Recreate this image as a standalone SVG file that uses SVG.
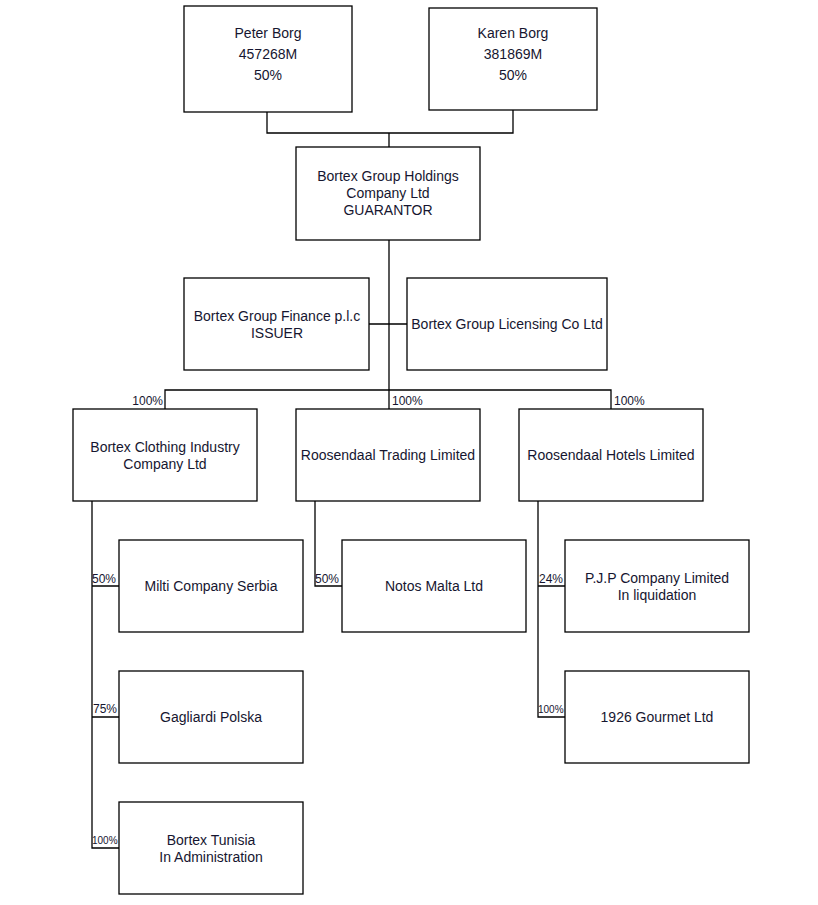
<svg xmlns="http://www.w3.org/2000/svg" width="818" height="905" viewBox="0 0 818 905">
<style>
.box{fill:#ffffff;stroke:#000000;stroke-width:1.3}
.t{font-family:"Liberation Sans",Arial,sans-serif;font-size:14px;fill:#161630;text-anchor:middle}
.p{font-family:"Liberation Sans",Arial,sans-serif;font-size:12px;fill:#161630}
.ps{font-family:"Liberation Sans",Arial,sans-serif;font-size:10px;fill:#161630}
.c{fill:none;stroke:#000000;stroke-width:1.3}
</style>
<rect width="818" height="905" fill="#ffffff"/>
<g id="connectors">
<path class="c" d="M267,112 V133 H513 V110 M389,133 V147"/>
<path class="c" d="M389,240 V390 M369,324 H407"/>
<path class="c" d="M165,409 V390 H611 V409 M389,390 V409"/>
<path class="c" d="M92,501 V848 H119 M92,586 H119 M92,717 H119"/>
<path class="c" d="M315,501 V586 H342"/>
<path class="c" d="M538,501 V717 H565 M538,586 H565"/>
<text class="p" x="163" y="405" text-anchor="end">100%</text>
<text class="p" x="392" y="405">100%</text>
<text class="p" x="614" y="405">100%</text>
<text class="p" x="92" y="583">50%</text>
<text class="p" x="93" y="713">75%</text>
<text class="ps" x="92" y="844">100%</text>
<text class="p" x="315" y="583">50%</text>
<text class="p" x="539" y="583">24%</text>
<text class="ps" x="538" y="713">100%</text>
</g>
<g id="peter-borg">
<rect class="box" x="184" y="6" width="168" height="106"/>
<text class="t" x="268" y="38">Peter Borg</text>
<text class="t" x="268" y="59">457268M</text>
<text class="t" x="268" y="80">50%</text>
</g>
<g id="karen-borg">
<rect class="box" x="429" y="8" width="168" height="102"/>
<text class="t" x="513" y="38">Karen Borg</text>
<text class="t" x="513" y="59">381869M</text>
<text class="t" x="513" y="80">50%</text>
</g>
<g id="holdings">
<rect class="box" x="296" y="147" width="184" height="93"/>
<text class="t" x="388" y="181">Bortex Group Holdings</text>
<text class="t" x="388" y="198">Company Ltd</text>
<text class="t" x="388" y="215">GUARANTOR</text>
</g>
<g id="finance">
<rect class="box" x="184" y="278" width="185" height="92"/>
<text class="t" x="277" y="321">Bortex Group Finance p.l.c</text>
<text class="t" x="277" y="338">ISSUER</text>
</g>
<g id="licensing">
<rect class="box" x="407" y="278" width="200" height="92"/>
<text class="t" x="507" y="329">Bortex Group Licensing Co Ltd</text>
</g>
<g id="clothing">
<rect class="box" x="73" y="409" width="184" height="92"/>
<text class="t" x="165" y="452">Bortex Clothing Industry</text>
<text class="t" x="165" y="469">Company Ltd</text>
</g>
<g id="trading">
<rect class="box" x="296" y="409" width="184" height="92"/>
<text class="t" x="388" y="460">Roosendaal Trading Limited</text>
</g>
<g id="hotels">
<rect class="box" x="519" y="409" width="184" height="92"/>
<text class="t" x="611" y="460">Roosendaal Hotels Limited</text>
</g>
<g id="milti">
<rect class="box" x="119" y="540" width="184" height="92"/>
<text class="t" x="211" y="591">Milti Company Serbia</text>
</g>
<g id="gagliardi">
<rect class="box" x="119" y="671" width="184" height="92"/>
<text class="t" x="211" y="722">Gagliardi Polska</text>
</g>
<g id="tunisia">
<rect class="box" x="119" y="802" width="184" height="92"/>
<text class="t" x="211" y="845">Bortex Tunisia</text>
<text class="t" x="211" y="862">In Administration</text>
</g>
<g id="notos">
<rect class="box" x="342" y="540" width="184" height="92"/>
<text class="t" x="434" y="591">Notos Malta Ltd</text>
</g>
<g id="pjp">
<rect class="box" x="565" y="540" width="184" height="92"/>
<text class="t" x="657" y="583">P.J.P Company Limited</text>
<text class="t" x="657" y="600">In liquidation</text>
</g>
<g id="gourmet">
<rect class="box" x="565" y="671" width="184" height="92"/>
<text class="t" x="657" y="722">1926 Gourmet Ltd</text>
</g>
</svg>
